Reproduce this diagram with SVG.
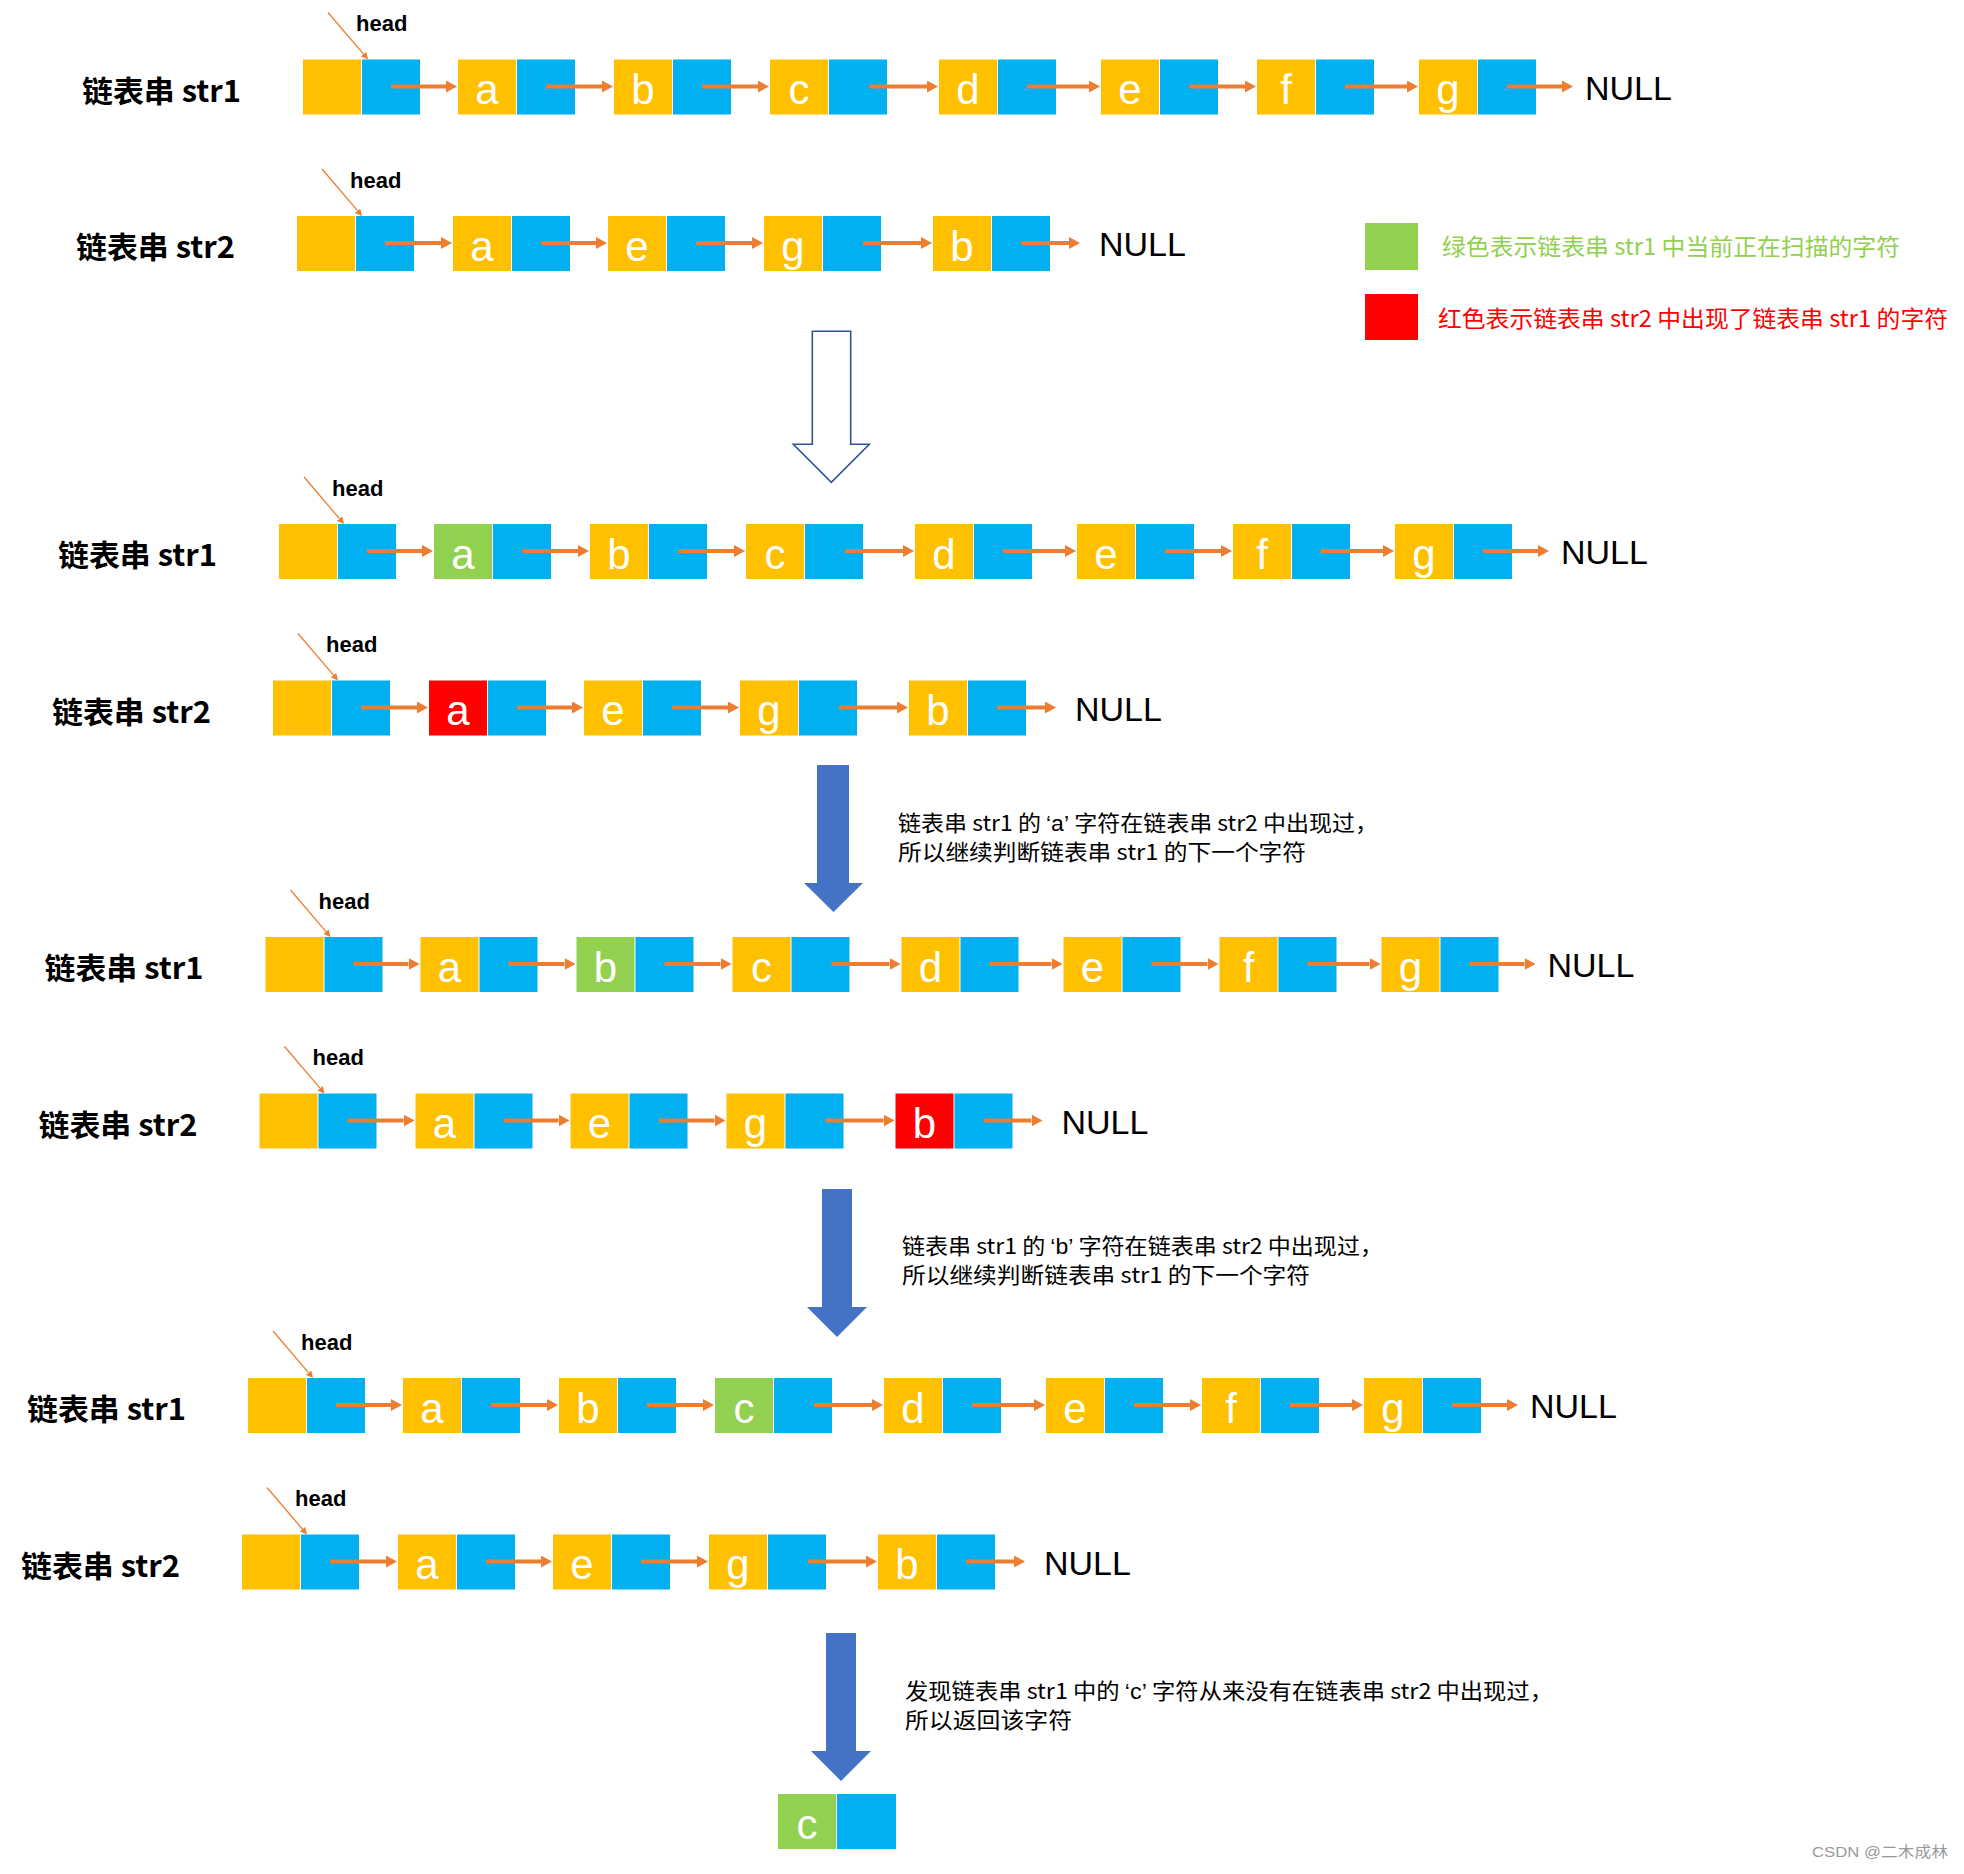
<svg xmlns="http://www.w3.org/2000/svg" width="1964" height="1874" viewBox="0 0 1964 1874">
<style>
.y{fill:#FFC000}.b{fill:#00B0F0}.g{fill:#92D050}.r{fill:#FF0000}
.lt{font-family:"Liberation Sans",Arial,sans-serif;font-size:42px;fill:#fff;text-anchor:middle}
.nl{font-family:"Liberation Sans",Arial,sans-serif;font-size:34px;fill:#000}
.hd{font-family:"Liberation Sans",Arial,sans-serif;font-size:22px;font-weight:bold;fill:#000}
.lb{font-family:"Noto Sans CJK SC",sans-serif;font-size:30px;font-weight:bold;fill:#000}
.an{font-family:"Noto Sans CJK SC",sans-serif;font-size:22px;fill:#000}
.q{font-family:"Liberation Sans",Arial,sans-serif}
.ar{stroke:#ED7D31;stroke-width:4;fill:none;marker-end:url(#ah)}
.hp{stroke:#ED7D31;stroke-width:1.3;fill:none;marker-end:url(#ah2)}
.ba{fill:#4472C4}
</style>
<defs>
<marker id="ah" markerUnits="userSpaceOnUse" markerWidth="11" markerHeight="12" refX="0" refY="6" orient="auto"><path d="M0,0 L11,6 L0,12z" fill="#ED7D31"/></marker>
<marker id="ah2" markerUnits="userSpaceOnUse" markerWidth="7" markerHeight="7" refX="0" refY="3.5" orient="auto"><path d="M0,0 L7,3.5 L0,7z" fill="#ED7D31"/></marker>
</defs>
<rect width="1964" height="1874" fill="#fff"/>

<!-- Row 1 str1 -->
<g id="row1" transform="translate(303,59.5)">
<text class="lb" x="-221" y="42" textLength="159" lengthAdjust="spacingAndGlyphs">链表串 str1</text>
<text class="hd" x="53" y="-28.5">head</text>
<g id="r1-head"><rect class="y" x="0" y="0" width="58" height="55"/><rect class="b" x="59" y="0" width="58" height="55"/></g>
<g id="r1-a"><rect class="y" x="155" y="0" width="58" height="55"/><rect class="b" x="214" y="0" width="58" height="55"/><text class="lt" x="184" y="44.5">a</text></g>
<g id="r1-b"><rect class="y" x="311" y="0" width="58" height="55"/><rect class="b" x="370" y="0" width="58" height="55"/><text class="lt" x="340" y="44.5">b</text></g>
<g id="r1-c"><rect class="y" x="467" y="0" width="58" height="55"/><rect class="b" x="526" y="0" width="58" height="55"/><text class="lt" x="496" y="44.5">c</text></g>
<g id="r1-d"><rect class="y" x="636" y="0" width="58" height="55"/><rect class="b" x="695" y="0" width="58" height="55"/><text class="lt" x="665" y="44.5">d</text></g>
<g id="r1-e"><rect class="y" x="798" y="0" width="58" height="55"/><rect class="b" x="857" y="0" width="58" height="55"/><text class="lt" x="827" y="44.5">e</text></g>
<g id="r1-f"><rect class="y" x="954" y="0" width="58" height="55"/><rect class="b" x="1013" y="0" width="58" height="55"/><text class="lt" x="983" y="44.5">f</text></g>
<g id="r1-g"><rect class="y" x="1116" y="0" width="58" height="55"/><rect class="b" x="1175" y="0" width="58" height="55"/><text class="lt" x="1145" y="44.5">g</text></g>
<g id="r1-null"><text class="nl" x="1282" y="40">NULL</text></g>
</g>

<!-- Row 2 str2 -->
<g id="row2" transform="translate(297,216)">
<text class="lb" x="-221" y="42" textLength="159" lengthAdjust="spacingAndGlyphs">链表串 str2</text>
<text class="hd" x="53" y="-28.5">head</text>
<g id="r2-head"><rect class="y" x="0" y="0" width="58" height="55"/><rect class="b" x="59" y="0" width="58" height="55"/></g>
<g id="r2-a"><rect class="y" x="156" y="0" width="58" height="55"/><rect class="b" x="215" y="0" width="58" height="55"/><text class="lt" x="185" y="44.5">a</text></g>
<g id="r2-e"><rect class="y" x="311" y="0" width="58" height="55"/><rect class="b" x="370" y="0" width="58" height="55"/><text class="lt" x="340" y="44.5">e</text></g>
<g id="r2-g"><rect class="y" x="467" y="0" width="58" height="55"/><rect class="b" x="526" y="0" width="58" height="55"/><text class="lt" x="496" y="44.5">g</text></g>
<g id="r2-b"><rect class="y" x="636" y="0" width="58" height="55"/><rect class="b" x="695" y="0" width="58" height="55"/><text class="lt" x="665" y="44.5">b</text></g>
<g id="r2-null"><text class="nl" x="802" y="40">NULL</text></g>
</g>

<!-- Row 3 str1 -->
<g id="row3" transform="translate(279,524)">
<text class="lb" x="-221" y="42" textLength="159" lengthAdjust="spacingAndGlyphs">链表串 str1</text>
<text class="hd" x="53" y="-28.5">head</text>
<g id="r3-head"><rect class="y" x="0" y="0" width="58" height="55"/><rect class="b" x="59" y="0" width="58" height="55"/></g>
<g id="r3-a"><rect class="g" x="155" y="0" width="58" height="55"/><rect class="b" x="214" y="0" width="58" height="55"/><text class="lt" x="184" y="44.5">a</text></g>
<g id="r3-b"><rect class="y" x="311" y="0" width="58" height="55"/><rect class="b" x="370" y="0" width="58" height="55"/><text class="lt" x="340" y="44.5">b</text></g>
<g id="r3-c"><rect class="y" x="467" y="0" width="58" height="55"/><rect class="b" x="526" y="0" width="58" height="55"/><text class="lt" x="496" y="44.5">c</text></g>
<g id="r3-d"><rect class="y" x="636" y="0" width="58" height="55"/><rect class="b" x="695" y="0" width="58" height="55"/><text class="lt" x="665" y="44.5">d</text></g>
<g id="r3-e"><rect class="y" x="798" y="0" width="58" height="55"/><rect class="b" x="857" y="0" width="58" height="55"/><text class="lt" x="827" y="44.5">e</text></g>
<g id="r3-f"><rect class="y" x="954" y="0" width="58" height="55"/><rect class="b" x="1013" y="0" width="58" height="55"/><text class="lt" x="983" y="44.5">f</text></g>
<g id="r3-g"><rect class="y" x="1116" y="0" width="58" height="55"/><rect class="b" x="1175" y="0" width="58" height="55"/><text class="lt" x="1145" y="44.5">g</text></g>
<g id="r3-null"><text class="nl" x="1282" y="40">NULL</text></g>
</g>

<!-- Row 4 str2 -->
<g id="row4" transform="translate(273,680.5)">
<text class="lb" x="-221" y="42" textLength="159" lengthAdjust="spacingAndGlyphs">链表串 str2</text>
<text class="hd" x="53" y="-28.5">head</text>
<g id="r4-head"><rect class="y" x="0" y="0" width="58" height="55"/><rect class="b" x="59" y="0" width="58" height="55"/></g>
<g id="r4-a"><rect class="r" x="156" y="0" width="58" height="55"/><rect class="b" x="215" y="0" width="58" height="55"/><text class="lt" x="185" y="44.5">a</text></g>
<g id="r4-e"><rect class="y" x="311" y="0" width="58" height="55"/><rect class="b" x="370" y="0" width="58" height="55"/><text class="lt" x="340" y="44.5">e</text></g>
<g id="r4-g"><rect class="y" x="467" y="0" width="58" height="55"/><rect class="b" x="526" y="0" width="58" height="55"/><text class="lt" x="496" y="44.5">g</text></g>
<g id="r4-b"><rect class="y" x="636" y="0" width="58" height="55"/><rect class="b" x="695" y="0" width="58" height="55"/><text class="lt" x="665" y="44.5">b</text></g>
<g id="r4-null"><text class="nl" x="802" y="40">NULL</text></g>
</g>

<!-- Row 5 str1 -->
<g id="row5" transform="translate(265.5,937)">
<text class="lb" x="-221" y="42" textLength="159" lengthAdjust="spacingAndGlyphs">链表串 str1</text>
<text class="hd" x="53" y="-28.5">head</text>
<g id="r5-head"><rect class="y" x="0" y="0" width="58" height="55"/><rect class="b" x="59" y="0" width="58" height="55"/></g>
<g id="r5-a"><rect class="y" x="155" y="0" width="58" height="55"/><rect class="b" x="214" y="0" width="58" height="55"/><text class="lt" x="184" y="44.5">a</text></g>
<g id="r5-b"><rect class="g" x="311" y="0" width="58" height="55"/><rect class="b" x="370" y="0" width="58" height="55"/><text class="lt" x="340" y="44.5">b</text></g>
<g id="r5-c"><rect class="y" x="467" y="0" width="58" height="55"/><rect class="b" x="526" y="0" width="58" height="55"/><text class="lt" x="496" y="44.5">c</text></g>
<g id="r5-d"><rect class="y" x="636" y="0" width="58" height="55"/><rect class="b" x="695" y="0" width="58" height="55"/><text class="lt" x="665" y="44.5">d</text></g>
<g id="r5-e"><rect class="y" x="798" y="0" width="58" height="55"/><rect class="b" x="857" y="0" width="58" height="55"/><text class="lt" x="827" y="44.5">e</text></g>
<g id="r5-f"><rect class="y" x="954" y="0" width="58" height="55"/><rect class="b" x="1013" y="0" width="58" height="55"/><text class="lt" x="983" y="44.5">f</text></g>
<g id="r5-g"><rect class="y" x="1116" y="0" width="58" height="55"/><rect class="b" x="1175" y="0" width="58" height="55"/><text class="lt" x="1145" y="44.5">g</text></g>
<g id="r5-null"><text class="nl" x="1282" y="40">NULL</text></g>
</g>

<!-- Row 6 str2 -->
<g id="row6" transform="translate(259.5,1093.5)">
<text class="lb" x="-221" y="42" textLength="159" lengthAdjust="spacingAndGlyphs">链表串 str2</text>
<text class="hd" x="53" y="-28.5">head</text>
<g id="r6-head"><rect class="y" x="0" y="0" width="58" height="55"/><rect class="b" x="59" y="0" width="58" height="55"/></g>
<g id="r6-a"><rect class="y" x="156" y="0" width="58" height="55"/><rect class="b" x="215" y="0" width="58" height="55"/><text class="lt" x="185" y="44.5">a</text></g>
<g id="r6-e"><rect class="y" x="311" y="0" width="58" height="55"/><rect class="b" x="370" y="0" width="58" height="55"/><text class="lt" x="340" y="44.5">e</text></g>
<g id="r6-g"><rect class="y" x="467" y="0" width="58" height="55"/><rect class="b" x="526" y="0" width="58" height="55"/><text class="lt" x="496" y="44.5">g</text></g>
<g id="r6-b"><rect class="r" x="636" y="0" width="58" height="55"/><rect class="b" x="695" y="0" width="58" height="55"/><text class="lt" x="665" y="44.5">b</text></g>
<g id="r6-null"><text class="nl" x="802" y="40">NULL</text></g>
</g>

<!-- Row 7 str1 -->
<g id="row7" transform="translate(248,1378)">
<text class="lb" x="-221" y="42" textLength="159" lengthAdjust="spacingAndGlyphs">链表串 str1</text>
<text class="hd" x="53" y="-28.5">head</text>
<g id="r7-head"><rect class="y" x="0" y="0" width="58" height="55"/><rect class="b" x="59" y="0" width="58" height="55"/></g>
<g id="r7-a"><rect class="y" x="155" y="0" width="58" height="55"/><rect class="b" x="214" y="0" width="58" height="55"/><text class="lt" x="184" y="44.5">a</text></g>
<g id="r7-b"><rect class="y" x="311" y="0" width="58" height="55"/><rect class="b" x="370" y="0" width="58" height="55"/><text class="lt" x="340" y="44.5">b</text></g>
<g id="r7-c"><rect class="g" x="467" y="0" width="58" height="55"/><rect class="b" x="526" y="0" width="58" height="55"/><text class="lt" x="496" y="44.5">c</text></g>
<g id="r7-d"><rect class="y" x="636" y="0" width="58" height="55"/><rect class="b" x="695" y="0" width="58" height="55"/><text class="lt" x="665" y="44.5">d</text></g>
<g id="r7-e"><rect class="y" x="798" y="0" width="58" height="55"/><rect class="b" x="857" y="0" width="58" height="55"/><text class="lt" x="827" y="44.5">e</text></g>
<g id="r7-f"><rect class="y" x="954" y="0" width="58" height="55"/><rect class="b" x="1013" y="0" width="58" height="55"/><text class="lt" x="983" y="44.5">f</text></g>
<g id="r7-g"><rect class="y" x="1116" y="0" width="58" height="55"/><rect class="b" x="1175" y="0" width="58" height="55"/><text class="lt" x="1145" y="44.5">g</text></g>
<g id="r7-null"><text class="nl" x="1282" y="40">NULL</text></g>
</g>

<!-- Row 8 str2 -->
<g id="row8" transform="translate(242,1534.5)">
<text class="lb" x="-221" y="42" textLength="159" lengthAdjust="spacingAndGlyphs">链表串 str2</text>
<text class="hd" x="53" y="-28.5">head</text>
<g id="r8-head"><rect class="y" x="0" y="0" width="58" height="55"/><rect class="b" x="59" y="0" width="58" height="55"/></g>
<g id="r8-a"><rect class="y" x="156" y="0" width="58" height="55"/><rect class="b" x="215" y="0" width="58" height="55"/><text class="lt" x="185" y="44.5">a</text></g>
<g id="r8-e"><rect class="y" x="311" y="0" width="58" height="55"/><rect class="b" x="370" y="0" width="58" height="55"/><text class="lt" x="340" y="44.5">e</text></g>
<g id="r8-g"><rect class="y" x="467" y="0" width="58" height="55"/><rect class="b" x="526" y="0" width="58" height="55"/><text class="lt" x="496" y="44.5">g</text></g>
<g id="r8-b"><rect class="y" x="636" y="0" width="58" height="55"/><rect class="b" x="695" y="0" width="58" height="55"/><text class="lt" x="665" y="44.5">b</text></g>
<g id="r8-null"><text class="nl" x="802" y="40">NULL</text></g>
</g>

<!-- Result node -->
<g id="result-c"><rect class="g" x="778" y="1794" width="58" height="55"/><rect class="b" x="837" y="1794" width="59" height="55"/><text class="lt" x="807" y="1838.5">c</text></g>

<!-- Legend -->
<g id="legend-green"><rect class="g" x="1365" y="223" width="53" height="47"/><text class="an" x="1442" y="255" style="fill:#92D050;font-size:23px" textLength="458" lengthAdjust="spacingAndGlyphs">绿色表示链表串 str1 中当前正在扫描的字符</text></g>
<g id="legend-red"><rect class="r" x="1365" y="294" width="53" height="46"/><text class="an" x="1438" y="327" style="fill:#FF0000;font-size:23px" textLength="510" lengthAdjust="spacingAndGlyphs">红色表示链表串 str2 中出现了链表串 str1 的字符</text></g>

<!-- Annotations -->
<g id="note1"><text class="an" x="898" y="831" textLength="480" lengthAdjust="spacingAndGlyphs">链表串 str1 的 <tspan class="q">‘a’</tspan> 字符在链表串 str2 中出现过，</text><text class="an" x="898" y="860" textLength="408" lengthAdjust="spacingAndGlyphs">所以继续判断链表串 str1 的下一个字符</text></g>
<g id="note2"><text class="an" x="902" y="1254" textLength="481" lengthAdjust="spacingAndGlyphs">链表串 str1 的 <tspan class="q">‘b’</tspan> 字符在链表串 str2 中出现过，</text><text class="an" x="902" y="1283" textLength="408" lengthAdjust="spacingAndGlyphs">所以继续判断链表串 str1 的下一个字符</text></g>
<g id="note3"><text class="an" x="905" y="1699" textLength="648" lengthAdjust="spacingAndGlyphs">发现链表串 str1 中的 <tspan class="q">‘c’</tspan> 字符从来没有在链表串 str2 中出现过，</text><text class="an" x="905" y="1728" textLength="167" lengthAdjust="spacingAndGlyphs">所以返回该字符</text></g>

<text x="1812" y="1857" textLength="136" lengthAdjust="spacingAndGlyphs" style="font-family:'Liberation Sans','Noto Sans CJK SC',sans-serif;font-size:15px;fill:#999">CSDN @二木成林</text>

<!-- Connectors -->
<g id="connectors">
<polygon id="hollow-arrow" points="812.3,331.3 850.7,331.3 850.7,444.3 869.3,444.3 831.3,482.3 793.3,444.3 812.3,444.3" fill="#fff" stroke="#2F5597" stroke-width="1.6"/>
<polygon class="ba" points="817,765 849,765 849,883 863,883 833.5,912 804,883 817,883"/>
<polygon class="ba" points="822,1189 852,1189 852,1307 867,1307 837,1337 807,1307 822,1307"/>
<polygon class="ba" points="826,1633 856,1633 856,1751 871,1751 841,1781 811,1751 826,1751"/>
<g transform="translate(303,59.5)">
<line class="hp" x1="25" y1="-47" x2="60.5" y2="-5.3"/>
<line class="ar" x1="88" y1="27" x2="143" y2="27"/><line class="ar" x1="243" y1="27" x2="299" y2="27"/><line class="ar" x1="399" y1="27" x2="455" y2="27"/><line class="ar" x1="566" y1="27" x2="624" y2="27"/><line class="ar" x1="724" y1="27" x2="786" y2="27"/><line class="ar" x1="886" y1="27" x2="942" y2="27"/><line class="ar" x1="1042" y1="27" x2="1104" y2="27"/><line class="ar" x1="1204" y1="27" x2="1259" y2="27"/>
</g>
<g transform="translate(279,524)">
<line class="hp" x1="25" y1="-47" x2="60.5" y2="-5.3"/>
<line class="ar" x1="88" y1="27" x2="143" y2="27"/><line class="ar" x1="243" y1="27" x2="299" y2="27"/><line class="ar" x1="399" y1="27" x2="455" y2="27"/><line class="ar" x1="566" y1="27" x2="624" y2="27"/><line class="ar" x1="724" y1="27" x2="786" y2="27"/><line class="ar" x1="886" y1="27" x2="942" y2="27"/><line class="ar" x1="1042" y1="27" x2="1104" y2="27"/><line class="ar" x1="1204" y1="27" x2="1259" y2="27"/>
</g>
<g transform="translate(265.5,937)">
<line class="hp" x1="25" y1="-47" x2="60.5" y2="-5.3"/>
<line class="ar" x1="88" y1="27" x2="143" y2="27"/><line class="ar" x1="243" y1="27" x2="299" y2="27"/><line class="ar" x1="399" y1="27" x2="455" y2="27"/><line class="ar" x1="566" y1="27" x2="624" y2="27"/><line class="ar" x1="724" y1="27" x2="786" y2="27"/><line class="ar" x1="886" y1="27" x2="942" y2="27"/><line class="ar" x1="1042" y1="27" x2="1104" y2="27"/><line class="ar" x1="1204" y1="27" x2="1259" y2="27"/>
</g>
<g transform="translate(248,1378)">
<line class="hp" x1="25" y1="-47" x2="60.5" y2="-5.3"/>
<line class="ar" x1="88" y1="27" x2="143" y2="27"/><line class="ar" x1="243" y1="27" x2="299" y2="27"/><line class="ar" x1="399" y1="27" x2="455" y2="27"/><line class="ar" x1="566" y1="27" x2="624" y2="27"/><line class="ar" x1="724" y1="27" x2="786" y2="27"/><line class="ar" x1="886" y1="27" x2="942" y2="27"/><line class="ar" x1="1042" y1="27" x2="1104" y2="27"/><line class="ar" x1="1204" y1="27" x2="1259" y2="27"/>
</g>
<g transform="translate(297,216)">
<line class="hp" x1="25" y1="-47" x2="60.5" y2="-5.3"/>
<line class="ar" x1="88" y1="27" x2="144" y2="27"/><line class="ar" x1="244" y1="27" x2="299" y2="27"/><line class="ar" x1="399" y1="27" x2="455" y2="27"/><line class="ar" x1="566" y1="27" x2="624" y2="27"/><line class="ar" x1="724" y1="27" x2="772" y2="27"/>
</g>
<g transform="translate(273,680.5)">
<line class="hp" x1="25" y1="-47" x2="60.5" y2="-5.3"/>
<line class="ar" x1="88" y1="27" x2="144" y2="27"/><line class="ar" x1="244" y1="27" x2="299" y2="27"/><line class="ar" x1="399" y1="27" x2="455" y2="27"/><line class="ar" x1="566" y1="27" x2="624" y2="27"/><line class="ar" x1="724" y1="27" x2="772" y2="27"/>
</g>
<g transform="translate(259.5,1093.5)">
<line class="hp" x1="25" y1="-47" x2="60.5" y2="-5.3"/>
<line class="ar" x1="88" y1="27" x2="144" y2="27"/><line class="ar" x1="244" y1="27" x2="299" y2="27"/><line class="ar" x1="399" y1="27" x2="455" y2="27"/><line class="ar" x1="566" y1="27" x2="624" y2="27"/><line class="ar" x1="724" y1="27" x2="772" y2="27"/>
</g>
<g transform="translate(242,1534.5)">
<line class="hp" x1="25" y1="-47" x2="60.5" y2="-5.3"/>
<line class="ar" x1="88" y1="27" x2="144" y2="27"/><line class="ar" x1="244" y1="27" x2="299" y2="27"/><line class="ar" x1="399" y1="27" x2="455" y2="27"/><line class="ar" x1="566" y1="27" x2="624" y2="27"/><line class="ar" x1="724" y1="27" x2="772" y2="27"/>
</g>
</g>
</svg>
